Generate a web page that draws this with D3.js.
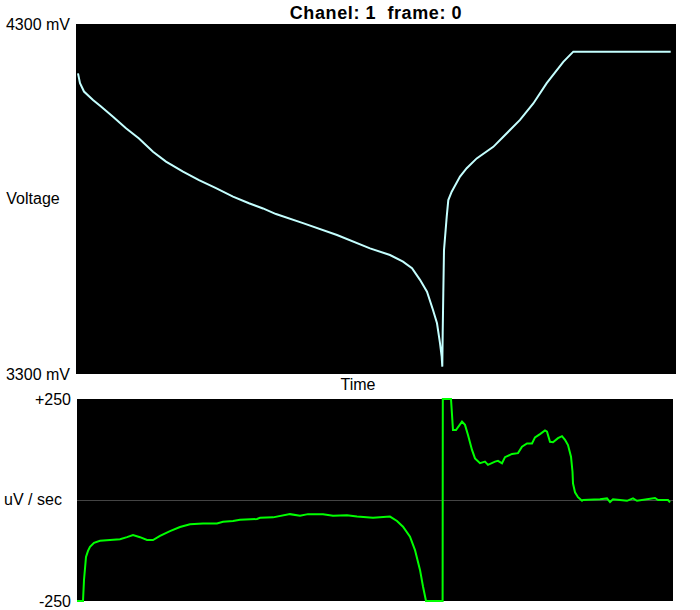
<!DOCTYPE html>
<html>
<head>
<meta charset="utf-8">
<script src="https://cdn.jsdelivr.net/npm/d3@7"></script>
<style>
    body { margin: 0; background: #fff; }
    svg { display: block; font-family: "Liberation Sans", Arial, sans-serif; }
    .axis .domain, .axis line { display: none; }
    .axis text { font-size: 16px; fill: #000; }
</style>
</head>
<body>
<svg id="chart"></svg>
<script>
// Voltage trace (sample, mV)
const voltTime = [1, 3, 7, 16, 24, 36, 49, 62, 76, 89, 106, 122, 139, 156, 172, 186, 199, 226, 260, 293,
    313, 326, 335, 343, 350, 356, 360, 363, 364.7, 365.3, 365.7, 366.3, 367, 369.7, 371.3, 374.7, 383,
    389.7, 399.7, 416.3, 426.3, 443, 456.3, 469.7, 486.3, 496.3, 593.7];
const voltValues = [4159, 4131, 4107, 4083, 4064, 4035, 4002, 3973, 3935, 3907, 3878, 3854, 3831, 3807, 3788, 3773, 3757, 3731, 3697, 3659,
    3640, 3621, 3602, 3569, 3535, 3483, 3445, 3388, 3349, 3321, 3417, 3531, 3654, 3749, 3797, 3821, 3864,
    3888, 3916, 3949, 3978, 4026, 4073, 4131, 4192, 4221, 4221];

// Rate of change trace (sample, uV / sec)
const rateTime = [0, 6, 7, 9, 11, 13, 17, 23, 33, 43, 50, 56, 63, 70, 76, 83, 93, 103, 113, 126,
    140, 146, 156, 163, 180, 183, 196, 213, 223, 231, 240, 246, 256, 270, 280, 296, 313, 320, 326, 333,
    338, 343, 346, 349, 365.6, 365.8, 374, 376, 379, 385, 388, 391, 395, 398, 403, 408, 411, 418, 421,
    425, 428, 435, 441, 445, 450, 455, 458, 463, 468, 470, 473, 476, 481, 485, 488, 491, 494, 495.5,
    496, 498, 501, 505, 506, 523, 530, 533, 536, 543, 550, 556, 560, 578, 581, 591, 593];
const rateValues = [-250, -250, -198, -141, -126, -116, -106, -101, -99, -97, -92, -87, -92, -99, -99, -89, -77, -67, -60, -58,
    -58, -54, -52, -49, -47, -44, -43, -35, -39, -35, -35, -35, -39, -38, -41, -44, -41, -52, -66, -91,
    -124, -173, -214, -250, -250, 250, 250, 173, 173, 194, 186, 161, 124, 103, 91, 95, 87, 95, 97,
    91, 106, 114, 116, 132, 140, 140, 155, 163, 172, 169, 144, 143, 153, 158, 149, 136, 107, 70,
    41, 19, 7, -2, 0, 2, 4, -5, 2, 0, -2, 4, -2, 5, 0, 0, -6];

const voltTicks = [3300, 4300];
const rateTicks = [-250, 250];
const titleText = "Chanel: 1  frame: 0";

const width = 700, height = 610;
const svg = d3.select("#chart").attr("width", width).attr("height", height);

// shared time scale
const x = d3.scaleLinear().domain([0, 596]).range([77, 673]);

// ---- upper panel: voltage ----
const upper = {left: 76, right: 676, top: 24, bottom: 374};
const yV = d3.scaleLinear().domain([3300, 4300]).range([upper.bottom, upper.top]);

svg.append("rect")
    .attr("x", upper.left).attr("y", upper.top)
    .attr("width", upper.right - upper.left).attr("height", upper.bottom - upper.top)
    .attr("fill", "#000");

svg.append("g")
    .attr("class", "axis")
    .attr("transform", `translate(${upper.left},0)`)
    .call(d3.axisLeft(yV).tickValues(voltTicks).tickSize(0).tickPadding(6).tickFormat(d => d + " mV"));

const voltLine = d3.line()
    .x((d, i) => x(voltTime[i]))
    .y(d => yV(d));

svg.append("path")
    .datum(voltValues)
    .attr("d", voltLine)
    .style("fill", "none")
    .style("stroke", "#c4ffff")
    .style("stroke-width", 2);

// ---- lower panel: rate ----
const lower = {left: 77, right: 673, top: 399, bottom: 601};
const yR = d3.scaleLinear().domain([-250, 250]).range([lower.bottom, lower.top]);

svg.append("rect")
    .attr("x", lower.left).attr("y", lower.top)
    .attr("width", lower.right - lower.left).attr("height", lower.bottom - lower.top)
    .attr("fill", "#000");

svg.append("line")
    .attr("x1", lower.left).attr("x2", lower.right)
    .attr("y1", yR(0) + 0.5).attr("y2", yR(0) + 0.5)
    .style("stroke", "#444")
    .style("stroke-width", 1);

svg.append("g")
    .attr("class", "axis")
    .attr("transform", `translate(${lower.left},0)`)
    .call(d3.axisLeft(yR).tickValues(rateTicks).tickSize(0).tickPadding(6).tickFormat(d => d > 0 ? "+" + d : "" + d));

const rateLine = d3.line()
    .x((d, i) => x(rateTime[i]))
    .y(d => yR(d));

svg.append("path")
    .datum(rateValues)
    .attr("d", rateLine)
    .style("fill", "none")
    .style("stroke", "#00ff00")
    .style("stroke-width", 2);

// ---- labels ----
svg.append("text")
    .attr("x", 376).attr("y", 19)
    .attr("text-anchor", "middle")
    .style("white-space", "pre")
    .style("font-size", "18px").style("font-weight", "bold")
    .style("letter-spacing", "0.6px")
    .text(titleText);

svg.append("text")
    .attr("x", 33).attr("y", (upper.top + upper.bottom) / 2)
    .attr("dy", "0.32em").attr("text-anchor", "middle")
    .style("font-size", "16px")
    .text("Voltage");

svg.append("text")
    .attr("x", 33).attr("y", yR(0))
    .attr("dy", "0.32em").attr("text-anchor", "middle")
    .style("font-size", "16px")
    .text("uV / sec");

svg.append("text")
    .attr("x", 358).attr("y", 385)
    .attr("dy", "0.32em").attr("text-anchor", "middle")
    .style("font-size", "16px")
    .text("Time");
</script>
</body>
</html>
